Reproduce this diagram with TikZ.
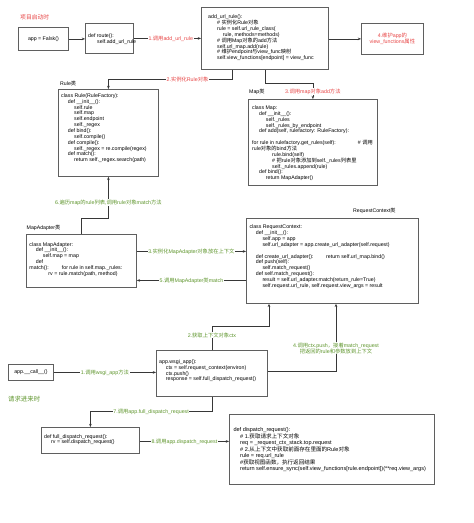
\documentclass[tikz,border=0pt]{standalone}
\usepackage{fontspec}
\setmainfont{Liberation Sans}
\newfontfamily\cjk{Noto Sans CJK SC}
\newcommand\zh[1]{{\cjk #1}}
\newcommand\ind[1]{\hspace*{#1pt}}
\usetikzlibrary{arrows.meta,calc}
\definecolor{myred}{RGB}{232,70,70}
\definecolor{mygreen}{RGB}{95,150,45}
\definecolor{linec}{RGB}{55,55,55}
\definecolor{boxc}{RGB}{95,95,95}
\begin{document}
\begin{tikzpicture}[x=1pt,y=-1pt,
 box/.style={draw=boxc, line width=0.8pt, fill=white, inner sep=0pt, anchor=north west},
 code/.style={font=\fontsize{5.25}{5.85}\selectfont, align=left, inner sep=0pt, anchor=west, text=black},
 conn/.style={draw=linec, line width=0.7pt, -{Stealth[length=3.2pt,width=2.6pt]}},
 lbl/.style={font=\fontsize{5.3}{6}\selectfont, fill=white, inner sep=0.6pt},
 ttl/.style={font=\fontsize{5.8}{6.5}\selectfont, inner sep=0pt, anchor=west},
 cls/.style={font=\fontsize{5.2}{6}\selectfont, inner sep=0pt, anchor=west}]

\fill[white] (0,0) rectangle (474,523);
\useasboundingbox (0,0) rectangle (474,523);

% titles
\node[ttl, text=myred] (t1) at (20,17.7) {\zh{项目启动时}};
\node[ttl, text=mygreen, font=\fontsize{6.4}{7}\selectfont] (t2) at (8,399) {\zh{请求进来时}};

% boxes
\node[box, minimum width=50pt, minimum height=23pt, font=\fontsize{5.25}{6}\selectfont] (app) at (18,27) {app = Falsk()};
\node[box, minimum width=48pt, minimum height=30pt] (route) at (85,23) {};
\node[box, minimum width=127pt, minimum height=62pt] (addurl) at (201,7) {};
\node[box, minimum width=62pt, minimum height=31pt, align=center, text=myred, font=\fontsize{5.3}{6.5}\selectfont] (view) at (361,23) {4.\zh{维护}app\zh{的}\\view\_functions\zh{属性}};
\node[box, minimum width=100pt, minimum height=87pt] (rule) at (58,89) {};
\node[box, minimum width=129pt, minimum height=86pt] (map) at (248,99) {};
\node[box, minimum width=110pt, minimum height=53pt] (mapad) at (26,234) {};
\node[box, minimum width=172pt, minimum height=85pt] (reqctx) at (246,218) {};
\node[box, minimum width=45pt, minimum height=16pt, font=\fontsize{5.25}{6}\selectfont] (call) at (8,364) {app.\_\_call\_\_()};
\node[box, minimum width=111pt, minimum height=46pt] (wsgi) at (156,350) {};
\node[box, minimum width=98pt, minimum height=26pt] (fulld) at (41,427) {};
\node[box, minimum width=205pt, minimum height=70pt] (disp) at (229,414) {};

% class labels
\node[cls] (rulelbl) at (60,84) {Rule\zh{类}};
\node[cls] (maplbl) at (249,92.3) {Map\zh{类}};
\node[cls] (malbl) at (26.5,228.3) {MapAdapter\zh{类}};
\node[cls] (rclbl) at (353,211) {RequestContext\zh{类}};

% texts
\node[code] (routetxt) at (88,38.7) {def route():\\\ind{9}self.add\_url\_rule};
\node[code] (addtxt) at (208,38) {add\_url\_rule():\\
\ind{9}\# \zh{实例化}Rule\zh{对象}\\
\ind{9}rule = self.url\_rule\_class(\\
\ind{14.7}rule, methods=methods)\\
\ind{9}\# \zh{调用}Map\zh{对象的}add\zh{方法}\\
\ind{9}self.url\_map.add(rule)\\
\ind{9}\# \zh{维护}endpoint\zh{与}view\_func\zh{映射}\\
\ind{9}self.view\_functions[endpoint] = view\_func};
\node[code] (ruletxt) at (61,128.2) {class Rule(RuleFactory):\\
\ind{6.7}def \_\_init\_\_():\\
\ind{13}self.rule\\
\ind{13}self.map\\
\ind{13}self.endpoint\\
\ind{13}self.\_regex\\
\ind{6.7}def bind():\\
\ind{13}self.compile()\\
\ind{6.7}def compile():\\
\ind{13}self.\_regex = re.compile(regex)\\
\ind{6.7}def match():\\
\ind{13}return self.\_regex.search(path)};
\node[code] (maptxt) at (252,143.3) {class Map:\\
\ind{7}def \_\_init\_\_():\\
\ind{13.7}self.\_rules\\
\ind{13.7}self.\_rules\_by\_endpoint\\
\ind{7}def add(self, rulefactory: RuleFactory):\\[5.85pt]
\makebox[105.7pt][l]{for rule in rulefactory.get\_rules(self):}\# \zh{调用}\\
rule\zh{对象的}bind\zh{方法}\\
\ind{20}rule.bind(self)\\
\ind{20}\# \zh{把}rule\zh{对象添加到}self.\_rules\zh{列表里}\\
\ind{20}self.\_rules.append(rule)\\
\ind{7}def bind():\\
\ind{13.7}return MapAdapter()};
\node[code] (matxt) at (29.3,259.3) {class MapAdapter:\\
\ind{6.4}def \_\_init\_\_():\\
\ind{13.4}self.map = map\\
\ind{6.4}def\\
\makebox[32.4pt][l]{match():}for rule in self.map.\_rules:\\
\ind{19}rv = rule.match(path, method)};
\node[code] (rctxt) at (249.3,256.7) {class RequestContext:\\
\ind{6.4}def \_\_init\_\_():\\
\ind{13}self.app = app\\
\ind{13}self.url\_adapter = app.create\_url\_adapter(self.request)\\[5.85pt]
\ind{6.4}\makebox[70.3pt][l]{def create\_url\_adapter():}return self.url\_map.bind()\\
\ind{6.4}def push(self):\\
\ind{13}self.match\_request()\\
\ind{6.4}def self.match\_request():\\
\ind{13}result = self.url\_adapter.match(return\_rule=True)\\
\ind{13}self.request.url\_rule, self.request.view\_args = result};
\node[code] (wsgitxt) at (159,370.8) {app.wsgi\_app():\\
\ind{6.7}ctx = self.request\_context(environ)\\
\ind{6.7}ctx.push()\\
\ind{6.7}response = self.full\_dispatch\_request()};
\node[code] (fulldtxt) at (44,439.7) {def full\_dispatch\_request():\\
\ind{7}rv = self.dispatch\_request()};
\node[code, font=\fontsize{5.55}{6.55}\selectfont] (disptxt) at (233.3,449.7) {def dispatch\_request():\\
\ind{6.7}\# 1.\zh{获取请求上下文对象}\\
\ind{6.7}req = \_request\_ctx\_stack.top.request\\
\ind{6.7}\# 2.\zh{从上下文中获取前面存在里面的}Rule\zh{对象}\\
\ind{6.7}rule = req.url\_rule\\
\ind{6.7}\#\zh{获取视图函数，执行返回结果}\\
\ind{6.7}return self.ensure\_sync(self.view\_functions[rule.endpoint])(**req.view\_args)};

% connectors (startup)
\draw[conn] (app.east) -- (app.east -| route.west);
\draw[conn] (route.east) -- (route.east -| addurl.west) node[lbl,text=myred,pos=0.55]{1.\zh{调用}add\_url\_rule};
\draw[conn] (view.west -| addurl.east) -- (view.west);
\draw[conn] ([xshift=31pt]addurl.south west) -- ++(0,10) -| node[lbl,text=myred,pos=0.18]{2.\zh{实例化}Rule\zh{对象}} (rule.north);
\draw[conn] ([xshift=64pt]addurl.south west) -- ++(0,14) -| node[lbl,text=myred,pos=0.75]{3.\zh{调用}map\zh{对象}add\zh{方法}} (map.north);

% connectors (request)
\draw[conn] (call.east) -- (call.east -| wsgi.west) node[lbl,text=mygreen,midway]{1.\zh{调用}wsgi\_app\zh{方法}};
\draw[conn] (wsgi.north) -- node[lbl,text=mygreen,pos=0.62]{2.\zh{获取上下文对象}ctx} ++(0,-24) -| ([xshift=23pt]reqctx.south west);
\draw[conn] ([yshift=9.5pt]mapad.east) coordinate (m3) -- (m3 -| reqctx.west) node[lbl,text=mygreen,midway]{3.\zh{实例化}MapAdapter\zh{对象放在上下文}};
\draw[conn] ([yshift=2pt]wsgi.east) -| node[lbl,text=mygreen,pos=0.67,align=center]{4.\zh{调用}ctx.push\zh{，接着}match\_request\\\zh{把返回的}rule\zh{和参数放到上下文}} ([xshift=90pt]reqctx.south west);
\draw[conn] ([yshift=-19.5pt]reqctx.west) coordinate (r5) -- (r5 -| mapad.east) node[lbl,text=mygreen,midway]{5.\zh{调用}MapAdapter\zh{类}match};
\draw[conn] (mapad.north) -- ++(0,-16) -| node[lbl,text=mygreen,pos=0.69]{6.\zh{遍历}map\zh{的}rule\zh{列表},\zh{调用}rule\zh{对象}match\zh{方法}} (rule.south);
\draw[conn] (wsgi.south) -- ++(0,15) -| node[lbl,text=mygreen,pos=0.25]{7.\zh{调用}app.full\_dispatch\_request} (fulld.north);
\draw[conn] ([yshift=-1pt]fulld.east) coordinate (f8) -- (f8 -| disp.west) node[lbl,text=mygreen,midway]{8.\zh{调用}app.dispatch\_request};
\end{tikzpicture}
\end{document}
